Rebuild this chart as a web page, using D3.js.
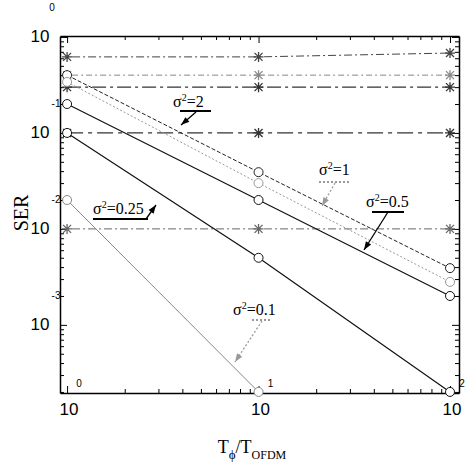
<!DOCTYPE html><html><head><meta charset="utf-8">
<script src="https://cdn.jsdelivr.net/npm/d3@7"></script>
<style>body{margin:0;background:#fff}</style></head><body>
<svg id="c" width="474" height="462"></svg>
<script>
const xVals=[1,10,100];
const xExps=["0","1","2"];
const yExps=["0","-1","-2","-3"];
// flat (asterisk) curves
const flatA=[0.62,0.62,0.68];
const flatB=[0.30,0.30,0.30];
const flatC=[0.40,0.40,0.40];
const flatD=[0.10,0.10,0.10];
const flatE=[0.01,0.01,0.01];
// sloped (circle) curves
const s2=[0.40,0.039,0.0039];
const s1=[0.34,0.030,0.0028];
const s05=[0.20,0.020,0.0020];
const s025=[0.10,0.005,0.0002];
const s01=[0.02,0.0002];
const svg=d3.select("#c");
const L=60,R=459,T=36,B=393;
const x=d3.scaleLog().domain([Math.pow(10,-0.037),Math.pow(10,2.047)]).range([L,R]);
const y=d3.scaleLog().domain([Math.pow(10,0.01),Math.pow(10,-3.71)]).range([T,B]);
const g=svg.append("g");
const mk=(ax,tr)=>{const a=g.append("g").attr("transform",tr).call(ax);a.selectAll("text").remove();a.select(".domain").attr("stroke","#000").attr("stroke-width",1.5);a.selectAll(".tick line").attr("stroke","#000");return a;};
const xt=x.ticks(), yt=y.ticks();
const isMajor=v=>Math.abs(Math.log10(v)-Math.round(Math.log10(v)))<1e-6;
[[d3.axisBottom(x),`translate(0,${B})`],[d3.axisTop(x),`translate(0,${T})`]].forEach(([a,t])=>{
 const s=mk(a.tickValues(xt).tickSizeOuter(0),t);
 s.selectAll(".tick line").attr("y2",(d)=> (t.includes(B)?-1:1)*(isMajor(d)?7:4));
});
[[d3.axisLeft(y),`translate(${L},0)`],[d3.axisRight(y),`translate(${R},0)`]].forEach(([a,t])=>{
 const s=mk(a.tickValues(yt).tickSizeOuter(0),t);
 s.selectAll(".tick line").attr("x2",(d)=> (t.includes(`${L},`)?1:-1)*(isMajor(d)?7:4));
});
const lab=(tx,ty,s,fs,anchor)=>svg.append("text").attr("x",tx).attr("y",ty).text(s).attr("font-family","Arial,Liberation Sans,sans-serif").attr("font-size",fs).attr("text-anchor",anchor||"middle");
xVals.forEach((v,i)=>{lab(x(v)+2,415,"10",17);lab(x(v)+12,B-6,xExps[i],10);});
yExps.forEach((e,i)=>{const v=Math.pow(10,-i);lab(40,y(v)+5,"10",17);lab(i==0?52:56,y(v)-26,e,10);});
svg.append("text").attr("transform","translate(28,213) rotate(-90)").attr("text-anchor","middle").attr("font-family","Times New Roman,Liberation Serif,serif").attr("font-size",20).text("SER");
const xl=svg.append("text").attr("x",252).attr("y",453).attr("text-anchor","middle").attr("font-family","Liberation Serif,serif").attr("font-size",18);
xl.append("tspan").text("T");xl.append("tspan").text("ϕ").attr("font-size",13).attr("dy",6);xl.append("tspan").text("/T").attr("dy",-6);xl.append("tspan").text("OFDM").attr("font-size",12).attr("dy",6);
const line=d3.line().x((d,i)=>x(xVals[i])).y(d=>y(d));
const draw=(data,dash,col,w,marker)=>{
 g.append("path").attr("d",line(data)).attr("fill","none").attr("stroke",col).attr("stroke-width",w).attr("stroke-dasharray",dash);
 data.forEach((v,i)=>{const cx=x(xVals[i]),cy=y(v);
  if(marker=="o")g.append("circle").attr("cx",cx).attr("cy",cy).attr("r",4.5).attr("fill","#fff").attr("stroke",col).attr("stroke-width",1);
  else g.append("path").attr("transform",`translate(${cx},${cy})`).attr("d","M-4,-4L4,4M-4,4L4,-4M0,-5V5M-5,0H5").attr("stroke",col).attr("stroke-width",1.3);
 });
};
draw(flatA,"2,3,8,3","#444",1,"*");
draw(flatC,"2,3,6,3","#888",1,"*");
draw(flatB,"14,4,3,4","#333",1.2,"*");
draw(flatD,"16,5,4,5","#333",1.2,"*");
draw(flatE,"2,3,8,3","#666",1,"*");
draw(s2,"4,2","#222",1,"o");
draw(s1,"2,2","#999",1,"o");
draw(s05,null,"#111",1.2,"o");
draw(s025,null,"#111",1.2,"o");
draw(s01,null,"#888",1,"o");
const ann=(tx,ty,txt,ux1,ux2,uy,ax1,ay1,ax2,ay2,col,dash)=>{
 const t=svg.append("text").attr("x",tx).attr("y",ty).attr("font-family","Liberation Serif,serif").attr("font-size",16).attr("fill","#000");
 t.append("tspan").text("σ");t.append("tspan").text("2").attr("font-size",10).attr("dy",-6);t.append("tspan").text("="+txt).attr("dy",6);
 svg.append("line").attr("x1",ux1).attr("x2",ux2).attr("y1",uy).attr("y2",uy).attr("stroke",col).attr("stroke-width",2).attr("stroke-dasharray",dash);
 svg.append("line").attr("x1",ax1).attr("y1",ay1).attr("x2",ax2).attr("y2",ay2).attr("stroke",col).attr("stroke-width",1.3).attr("stroke-dasharray",dash);
 const a=Math.atan2(ay2-ay1,ax2-ax1),h=9;
 svg.append("path").attr("d",`M${ax2},${ay2}L${ax2-h*Math.cos(a-0.35)},${ay2-h*Math.sin(a-0.35)}L${ax2-h*Math.cos(a+0.35)},${ay2-h*Math.sin(a+0.35)}Z`).attr("fill",col);
};
ann(173,107,"2",180,211,111,196,112,181,125,"#000",null);
ann(319,175,"1",319,351,182,335,183,322,206,"#999","2,2");
ann(366,207,"0.5",372,404,212,388,212,364,250,"#000",null);
ann(93,214,"0.25",93,148,219,146,219,156,205,"#000",null);
ann(233,315,"0.1",252,272,320,262,321,235,362,"#999","2,2");
</script></body></html>
